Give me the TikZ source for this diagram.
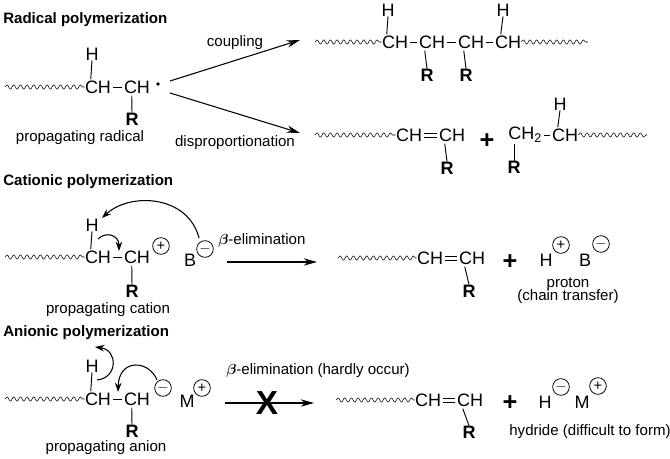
\documentclass[tikz,border=0pt]{standalone}
\usepackage{amsmath}
\usepackage{fontspec}
\setmainfont{Liberation Sans}
\usetikzlibrary{decorations.pathmorphing,calc,arrows.meta}
\begin{document}
\begin{tikzpicture}[x=0.75pt,y=-0.75pt,
  chem/.style={inner sep=0pt,font=\fontsize{13.5}{13.5}\selectfont},
  rr/.style={inner sep=0pt,font=\fontsize{13.5}{13.5}\selectfont\bfseries},
  pl/.style={inner sep=0pt,font=\fontsize{19}{19}\selectfont\bfseries},
  lab/.style={inner sep=0pt,font=\fontsize{11.3}{12}\selectfont,align=center},
  ttl/.style={inner sep=0pt,anchor=west,font=\fontsize{11.3}{12}\selectfont\bfseries},
  wavy/.style={decorate,decoration={snake,amplitude=1.6,segment length=5}},
  bond/.style={line width=0.7pt},
  arr/.style={line width=0.8pt,-{Stealth[length=10pt,width=5.5pt]}},
  carr/.style={line width=0.8pt,-{Stealth[length=7pt,width=5pt]}},
  chg/.style={circle,draw,line width=0.6pt,inner sep=0pt,minimum size=12.5pt,font=\fontsize{11}{11}\selectfont}]
\useasboundingbox (0,0) rectangle (670,459);

% ---------- Radical ----------
\node[ttl] (t1) at (3,20) {Radical polymerization};
\coordinate (w1a) at (5,87);
\node[chem] (r1) at (98,87) {CH};
\node[chem] (r2) at (137,87) {CH};
\node[chem] (rh) at (92,54) {H};
\node[rr] (rR) at (132,119) {R};
\fill (158,84) circle (1.8);
\draw[wavy] (w1a) -- (r1.west);
\draw[bond] ($(r1.east)+(2,0)$) -- ($(r2.west)+(-2,0)$);
\draw[bond] (rh.south) -- ($(r1.north west)+(6,-1)$);
\draw[bond] ($(r2.south west)+(8,2)$) -- (rR.north);
\node[lab] (rlab) at (80,138) {propagating radical};
\coordinate (a1s) at (170,81);
\coordinate (a1e) at (300,40);
\coordinate (a2s) at (170,93);
\coordinate (a2e) at (300,133);
\draw[arr] (a1s) -- (a1e);
\draw[arr] (a2s) -- (a2e);
\node[lab] (lc) at (235,43) {coupling};
\node[lab] (ld) at (235,143) {disproportionation};

% coupling product
\node[chem] (p1) at (395,42) {CH};
\node[chem] (p2) at (432,42) {CH};
\node[chem] (p3) at (471,42) {CH};
\node[chem] (p4) at (508,42) {CH};
\node[chem] (ph1) at (388,10) {H};
\node[chem] (ph4) at (503,10) {H};
\node[rr] (pR2) at (427,75) {R};
\node[rr] (pR3) at (466,75) {R};
\coordinate (pw1) at (315,42);
\coordinate (pw2) at (588,42);
\draw[wavy] (pw1) -- (p1.west);
\draw[wavy] (p4.east) -- (pw2);
\draw[bond] ($(p1.east)+(2,0)$) -- ($(p2.west)+(-2,0)$);
\draw[bond] ($(p2.east)+(2,0)$) -- ($(p3.west)+(-2,0)$);
\draw[bond] ($(p3.east)+(2,0)$) -- ($(p4.west)+(-2,0)$);
\draw[bond] (ph1.south) -- ($(p1.north west)+(5,-1)$);
\draw[bond] (ph4.south) -- ($(p4.north west)+(6,-1)$);
\draw[bond] ($(p2.south west)+(6,2)$) -- (pR2.north);
\draw[bond] ($(p3.south west)+(6,2)$) -- (pR3.north);

% disproportionation products
\node[chem] (d1) at (409,135) {CH};
\node[chem] (d2) at (452,135) {CH};
\node[rr] (dR) at (447,168) {R};
\coordinate (dw1) at (315,135);
\draw[wavy] (dw1) -- (d1.west);
\draw[bond] ($(d1.east)+(2,-2)$) -- ($(d2.west)+(-2,-2)$);
\draw[bond] ($(d1.east)+(2,2)$) -- ($(d2.west)+(-2,2)$);
\draw[bond] ($(d2.south west)+(6,2)$) -- (dR.north);
\node[pl] (plus1) at (487,141) {+};
\node[chem,anchor=west] (e1) at (508,135) {CH\textsubscript{2}};
\node[chem] (e2) at (565,135) {CH};
\node[chem] (eh) at (560,104) {H};
\node[rr] (eR) at (514,167) {R};
\coordinate (ew2) at (647,135);
\draw[bond] ($(e1.east)+(2,0)$) -- ($(e2.west)+(-2,0)$);
\draw[bond] (eh.south) -- ($(e2.north west)+(6,-1)$);
\draw[bond] ($(e1.south west)+(6,1)$) -- (eR.north);
\draw[wavy] (e2.east) -- (ew2);

% ---------- Cationic ----------
\node[ttl] (t2) at (3,182) {Cationic polymerization};
\coordinate (w2a) at (5,257);
\node[chem] (c1) at (98,257) {CH};
\node[chem] (c2) at (137,257) {CH};
\node[chem] (ch) at (92,225) {H};
\node[rr] (cR) at (132,291) {R};
\node[chg] (cplus) at (161,246) {+};
\node[chem] (cB) at (190,260) {B};
\node[chg] (cminus) at (205,249) {$-$};
\draw[wavy] (w2a) -- (c1.west);
\draw[bond] ($(c1.east)+(2,0)$) -- ($(c2.west)+(-2,0)$);
\draw[bond] (ch.south) -- ($(c1.north west)+(6,-1)$);
\draw[bond] ($(c2.south west)+(8,2)$) -- (cR.north);
\coordinate (ca1) at (199,238);
\coordinate (ca1e) at (102,218);
\draw[carr] (ca1) .. controls (188,195) and (130,192) .. (ca1e);
\coordinate (ca2) at (98,239);
\coordinate (ca2e) at (119,251);
\draw[carr] (ca2) .. controls (106,231) and (119,235) .. (ca2e);
\node[lab] (clab) at (108,310) {propagating cation};
\coordinate (ba1) at (227,262);
\coordinate (ba2) at (317,262);
\draw[arr] (ba1) -- (ba2);
\node[lab,anchor=west] (bl1) at (218,240) {$\boldsymbol{\beta}$-elimination};
% product
\node[chem] (q1) at (430,258) {CH};
\node[chem] (q2) at (472,258) {CH};
\node[rr] (qR) at (469,291) {R};
\coordinate (qw1) at (338,258);
\draw[wavy] (qw1) -- (q1.west);
\draw[bond] ($(q1.east)+(2,-2)$) -- ($(q2.west)+(-2,-2)$);
\draw[bond] ($(q1.east)+(2,2)$) -- ($(q2.west)+(-2,2)$);
\draw[bond] ($(q2.south west)+(6,2)$) -- (qR.north);
\node[pl] (plus2) at (510,262) {+};
\node[chem] (qH) at (546,260) {H};
\node[chg] (qHp) at (561,245) {+};
\node[chem] (qB) at (585,260) {B};
\node[chg] (qBm) at (601,244) {$-$};
\node[lab] (qlab) at (568,291) {proton\\[-2pt](chain transfer)};

% ---------- Anionic ----------
\node[ttl] (t3) at (3,333) {Anionic polymerization};
\coordinate (w3a) at (5,399);
\node[chem] (n1) at (98,399) {CH};
\node[chem] (n2) at (137,399) {CH};
\node[chem] (nh) at (92,366) {H};
\node[rr] (nR) at (132,431) {R};
\node[chg] (nminus) at (163,388) {$-$};
\node[chem] (nM) at (187,401) {M};
\node[chg] (nMp) at (202,388) {+};
\draw[wavy] (w3a) -- (n1.west);
\draw[bond] ($(n1.east)+(2,0)$) -- ($(n2.west)+(-2,0)$);
\draw[bond] (nh.south) -- ($(n1.north west)+(6,-1)$);
\draw[bond] ($(n2.south west)+(8,2)$) -- (nR.north);
\coordinate (na1) at (97,380);
\coordinate (na1e) at (95,347);
\draw[carr] (na1) .. controls (118,378) and (118,350) .. (na1e);
\coordinate (na2) at (157,380);
\coordinate (na2e) at (118,392);
\draw[carr] (na2) .. controls (149,360) and (119,358) .. (na2e);
\node[lab] (nlab) at (106,448) {propagating anion};
\coordinate (xa1) at (225,403);
\coordinate (xa2) at (314,403);
\draw[arr] (xa1) -- (xa2);
\node[inner sep=0pt,font=\fontsize{25}{25}\selectfont\bfseries] (xx) at (267,403) {X};
\node[lab,anchor=west] (bl2) at (226,371) {$\boldsymbol{\beta}$-elimination (hardly occur)};
% product
\node[chem] (m1) at (428,400) {CH};
\node[chem] (m2) at (470,400) {CH};
\node[rr] (mR) at (469,432) {R};
\coordinate (mw1) at (336,400);
\draw[wavy] (mw1) -- (m1.west);
\draw[bond] ($(m1.east)+(2,-2)$) -- ($(m2.west)+(-2,-2)$);
\draw[bond] ($(m1.east)+(2,2)$) -- ($(m2.west)+(-2,2)$);
\draw[bond] ($(m2.south west)+(6,2)$) -- (mR.north);
\node[pl] (plus3) at (510,403) {+};
\node[chem] (mH) at (545,402) {H};
\node[chg] (mHm) at (561,387) {$-$};
\node[chem] (mM) at (582,402) {M};
\node[chg] (mMp) at (598,386) {+};
\node[lab] (mlab) at (590,432) {hydride (difficult to form)};
\end{tikzpicture}
\end{document}
